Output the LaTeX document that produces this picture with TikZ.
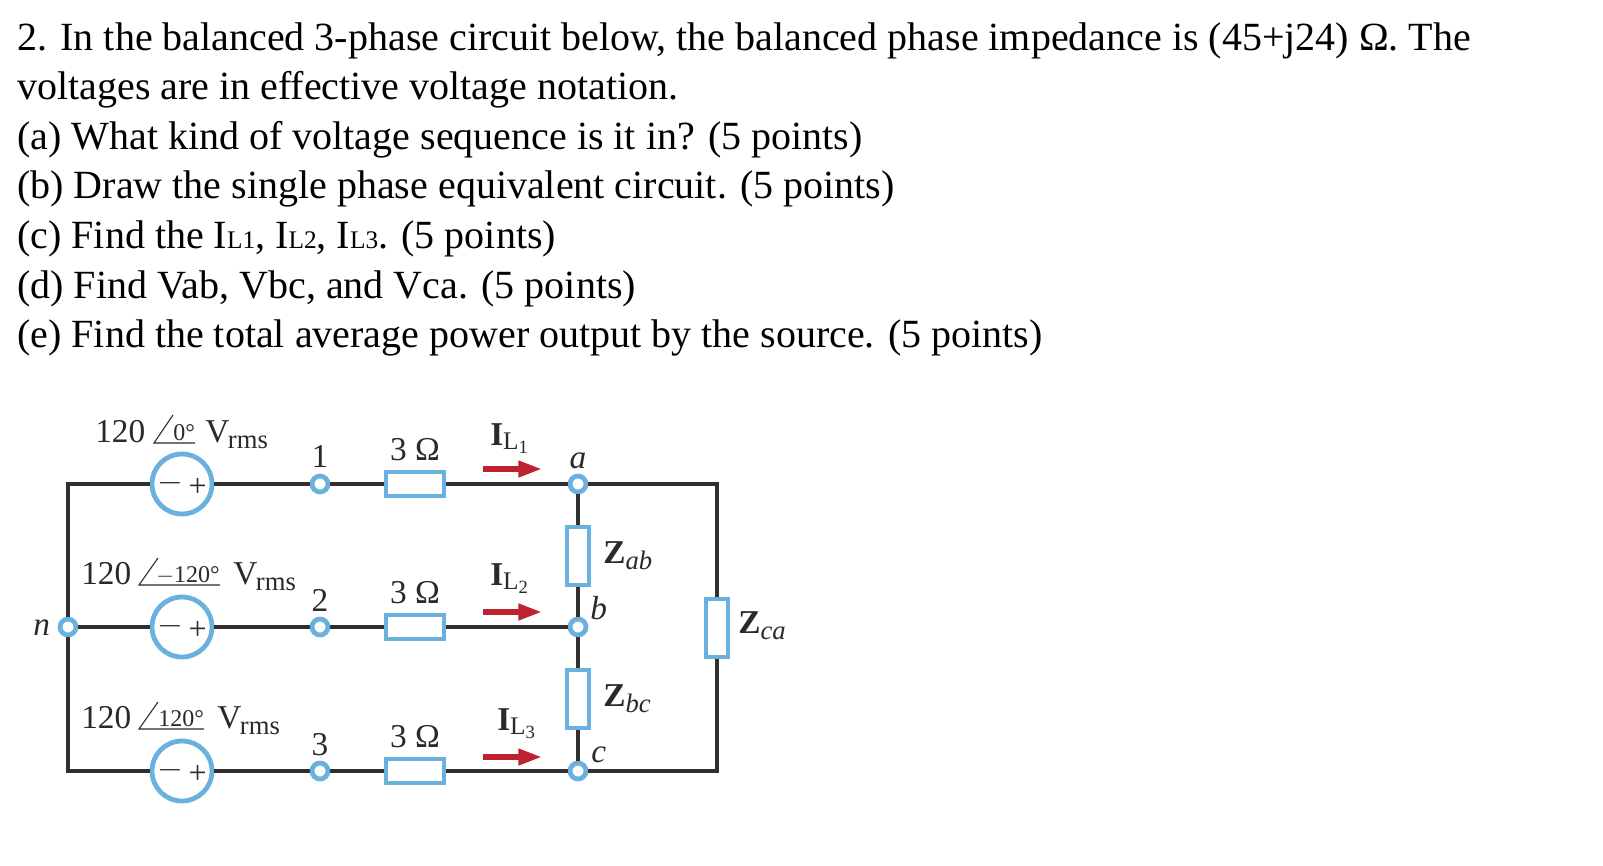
\documentclass[tikz,border=0pt]{standalone}
\usepackage{fontspec}
\setmainfont{Liberation Serif}
\usetikzlibrary{positioning}
\usetikzlibrary{arrows.meta}
\definecolor{wireblk}{HTML}{332F2C}
\definecolor{partblue}{HTML}{6BB1E0}
\definecolor{arrowred}{HTML}{BE2130}
\definecolor{inkgrey}{HTML}{2A2A2A}
\newcommand{\Iline}[1]{\textbf{I}\raisebox{-3.5pt}{\fontsize{19}{19}\selectfont L\raisebox{-2.5pt}{\fontsize{14}{14}\selectfont #1}}}
\newcommand{\Zload}[1]{\textbf{Z}\raisebox{-4.5pt}{\fontsize{20}{20}\selectfont\textit{#1}}}
\begin{document}
\begin{tikzpicture}[x=.75pt, y=-.75pt, inner sep=0pt, line join=miter,
    wire/.style={draw=wireblk, line width=2.3pt},
    ctext/.style={text=inkgrey, font=\fontsize{25}{25}\selectfont},
    small/.style={text=inkgrey, font=\fontsize{18}{18}\selectfont},
    sub/.style={text=inkgrey, font=\fontsize{20}{20}\selectfont},
    src/.style={draw=partblue, line width=3.6pt, circle, minimum size=45pt, fill=white, text=inkgrey, font=\fontsize{24}{24}\selectfont},
    term/.style={draw=partblue, line width=3.6pt, circle, minimum size=12pt, fill=white},
    res/.style={draw=partblue, line width=3pt, rectangle, minimum width=44pt, minimum height=18pt, fill=white},
    load/.style={draw=partblue, line width=3pt, rectangle, minimum width=17pt, minimum height=44pt, fill=white},
    angl/.style={draw=inkgrey, line width=.8pt},
    arrow/.style={-{Triangle[length=18pt, width=11.5pt]}, draw=arrowred, line width=5pt}]
    \useasboundingbox (0,0) rectangle (1603,866);
    \fill[white] (0,0) rectangle (1603,866);

    \node[anchor=north west, align=left, text=black, font=\fontsize{30}{37.2}\selectfont] (task) at (17,22) {2. In the balanced 3-phase circuit below, the balanced phase impedance is (45+j24) Ω. The\\
    voltages are in effective voltage notation.\\
    (a) What kind of voltage sequence is it in? (5 points)\\
    (b) Draw the single phase equivalent circuit. (5 points)\\
    (c) Find the I{\fontsize{19}{19}\selectfont L1}, I{\fontsize{19}{19}\selectfont L2}, I{\fontsize{19}{19}\selectfont L3}. (5 points)\\
    (d) Find Vab, Vbc, and Vca. (5 points)\\
    (e) Find the total average power output by the source. (5 points)};

    \node[src] (s1) at (182,484) {\raisebox{3pt}{$-$}\,\raisebox{-.5pt}{+}};
    \node[src] (s2) at (182,627) {\raisebox{3pt}{$-$}\,\raisebox{-.5pt}{+}};
    \node[src] (s3) at (182,771) {\raisebox{3pt}{$-$}\,\raisebox{-.5pt}{+}};
    \node[term] (t1) at (320,484) {};
    \node[term] (t2) at (320,627) {};
    \node[term] (t3) at (320,771) {};
    \node[res] (r1) at (415,484) {};
    \node[res] (r2) at (415,627) {};
    \node[res] (r3) at (415,771) {};
    \node[term] (a) at (578,484) {};
    \node[term] (b) at (578,627) {};
    \node[term] (c) at (578,771) {};
    \node[term] (n) at (68,627) {};
    \node[load] (zab) at (578,556) {};
    \node[load] (zbc) at (578,699) {};
    \node[load] (zca) at (717,628) {};

    \draw[wire] (n) |- (s1);
    \draw[wire] (n) |- (s3);
    \draw[wire] (n) -- (s2);
    \draw[wire] (s1) -- (t1);
    \draw[wire] (s2) -- (t2);
    \draw[wire] (s3) -- (t3);
    \draw[wire] (t1) -- (r1);
    \draw[wire] (t2) -- (r2);
    \draw[wire] (t3) -- (r3);
    \draw[wire] (r1) -- (a);
    \draw[wire] (r2) -- (b);
    \draw[wire] (r3) -- (c);
    \draw[wire] (a) -- (zab);
    \draw[wire] (zab) -- (b);
    \draw[wire] (b) -- (zbc);
    \draw[wire] (zbc) -- (c);
    \draw[wire] (a) -| (zca);
    \draw[wire] (c) -| (zca);

    \node[ctext, anchor=base west] (m1) at (95,442) {120};
    \node[small, anchor=base west] (ang1) at (173,440) {0°};
    \node[ctext, anchor=base west] (v1) at (205,442) {V};
    \node[sub, base right=-1.5pt of v1] (u1) [yshift=-4.5pt] {rms};
    \coordinate (k1) at (154,443);
    \draw[angl] (ang1.base east |- k1) -- (k1) -- (173,415);

    \node[ctext, anchor=base west] (m2) at (81,584) {120};
    \node[small, anchor=base west] (ang2) at (156,582) {$-$120°};
    \node[ctext, anchor=base west] (v2) at (233,584) {V};
    \node[sub, base right=-1.5pt of v2] (u2) [yshift=-4.5pt] {rms};
    \coordinate (k2) at (139,585);
    \draw[angl] (ang2.base east |- k2) -- (k2) -- (158,558);

    \node[ctext, anchor=base west] (m3) at (81,728) {120};
    \node[small, anchor=base west] (ang3) at (158,726) {120°};
    \node[ctext, anchor=base west] (v3) at (217,728) {V};
    \node[sub, base right=-1.5pt of v3] (u3) [yshift=-4.5pt] {rms};
    \coordinate (k3) at (139,729);
    \draw[angl] (ang3.base east |- k3) -- (k3) -- (158,702);

    \node[ctext, above=4.5pt of t1] (l1) {1};
    \node[ctext, above=3.5pt of t2] (l2) {2};
    \node[ctext, above=3.5pt of t3] (l3) {3};
    \node[ctext, above=6.5pt of r1] (o1) {3 Ω};
    \node[ctext, above=6.5pt of r2] (o2) {3 Ω};
    \node[ctext, above=6.5pt of r3] (o3) {3 Ω};

    \node[ctext, anchor=base west] (i1) at (490,445) {\Iline{1}};
    \node[ctext, anchor=base west] (i2) at (490,585) {\Iline{2}};
    \node[ctext, anchor=base west] (i3) at (497,730) {\Iline{3}};
    \coordinate (i1s) at (483,469);
    \coordinate[right=44.5pt of i1s] (i1e);
    \coordinate (i2s) at (483,612);
    \coordinate[right=44.5pt of i2s] (i2e);
    \coordinate (i3s) at (483,757);
    \coordinate[right=44.5pt of i3s] (i3e);
    \draw[arrow] (i1s) -- (i1e);
    \draw[arrow] (i2s) -- (i2e);
    \draw[arrow] (i3s) -- (i3e);

    \node[ctext, anchor=base] (la) at (578,468) {\textit{a}};
    \node[ctext, anchor=base west] (lb) at (590,619) {\textit{b}};
    \node[ctext, anchor=base west] (lc) at (591,762) {\textit{c}};
    \node[ctext, anchor=base west] (ln) at (33,635) {\textit{n}};

    \node[ctext, anchor=base west] (lzab) at (603,563) {\Zload{ab}};
    \node[ctext, anchor=base west] (lzbc) at (603,706) {\Zload{bc}};
    \node[ctext, anchor=base west] (lzca) at (738,633) {\Zload{ca}};
\end{tikzpicture}
\end{document}
